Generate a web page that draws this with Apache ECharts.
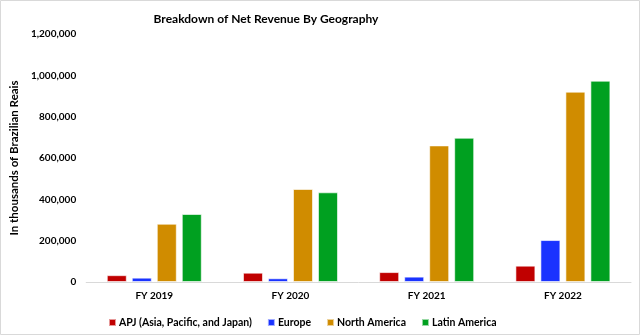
<!DOCTYPE html>
<html>
<head>
<meta charset="utf-8">
<script src="https://cdn.jsdelivr.net/npm/echarts@6/dist/echarts.min.js"></script>
<style>html,body{margin:0;padding:0;background:#fff}#c{width:640px;height:335px}</style>
</head>
<body>
<div id="c"></div>
<script>
const categories = ['FY 2019', 'FY 2020', 'FY 2021', 'FY 2022'];
const seriesNames = ['APJ (Asia, Pacific, and Japan)', 'Europe', 'North America', 'Latin America'];
const apj = [33000, 45000, 48000, 79000];
const europe = [21000, 18000, 26000, 203000];
const northAmerica = [282000, 450000, 661000, 921000];
const latinAmerica = [329000, 434000, 698000, 974000];
const colors = ['#C00000', '#1A33FF', '#D08C00', '#00A020'];

const chart = echarts.init(document.getElementById('c'));
const font = 'Lato, "Open Sans", sans-serif';
const vals = [apj, europe, northAmerica, latinAmerica];
chart.setOption({
  animation: false,
  textStyle: { fontFamily: font },
  title: {
    text: 'Breakdown of Net Revenue By Geography',
    left: 261, top: 8, textAlign: 'center',
    textStyle: { fontSize: 12, fontWeight: 'bold', color: '#000', fontFamily: font }
  },
  graphic: [{ type: 'rect', shape: { x: 0.5, y: 0.5, width: 639, height: 334 }, style: { fill: 'none', stroke: '#d9d9d9', lineWidth: 1 }, silent: true }],
  legend: {
    data: seriesNames, left: 103, top: 312, itemWidth: 7, itemHeight: 7, itemGap: 15,
    icon: 'rect',
    textStyle: { fontSize: 10.5, fontWeight: 'bold', color: '#000', fontFamily: font, padding: [0, 0, 0, -2] }
  },
  grid: { left: 83, right: 9, top: 34, bottom: 53 },
  xAxis: {
    type: 'category', data: categories,
    axisLine: { lineStyle: { color: '#d9d9d9', width: 1 } },
    axisTick: { show: false },
    axisLabel: { fontSize: 10, fontWeight: 'bold', color: '#000', margin: 9 }
  },
  yAxis: {
    type: 'value', min: 0, max: 1200000, interval: 200000,
    name: 'In thousands of Brazilian Reais', nameLocation: 'middle', nameGap: 52,
    nameTextStyle: { fontSize: 11.5, fontWeight: 'bold', color: '#000' },
    splitLine: { show: false },
    axisLine: { show: false },
    axisTick: { show: false },
    axisLabel: { fontSize: 10, fontWeight: 'bold', color: '#000', margin: 10,
      formatter: v => v.toLocaleString('en-US') }
  },
  series: seriesNames.map((n, i) => ({
    name: n, type: 'bar', data: vals[i],
    barWidth: 20, barGap: '25%',
    itemStyle: { color: colors[i], borderColor: 'rgba(255,255,255,0.6)', borderWidth: 1 }
  }))
});
</script>
</body>
</html>
